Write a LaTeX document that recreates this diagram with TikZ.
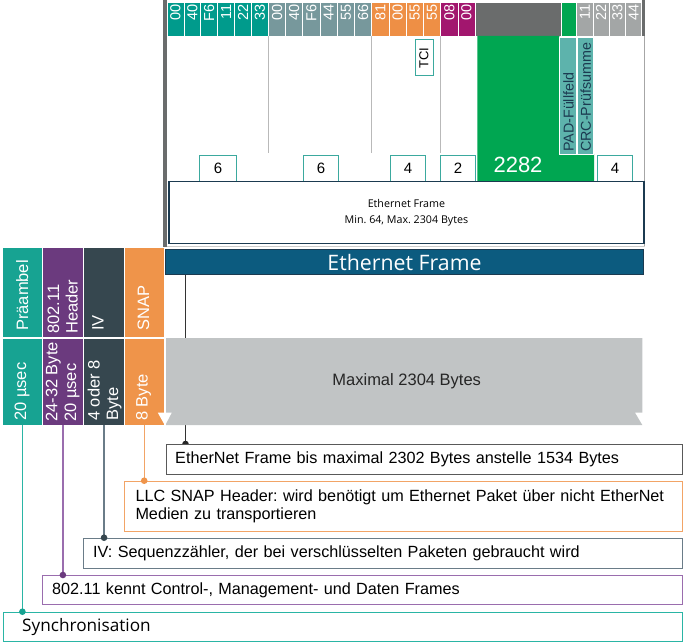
\documentclass[tikz,border=0pt]{standalone}
\usepackage{fontspec}
\setmainfont{Liberation Sans}
\newfontfamily\seg{Open Sans}
\newcommand\fs[2]{\fontsize{#1}{#2}\selectfont}
\frenchspacing
\definecolor{cteal}{HTML}{009B8C}
\definecolor{cgteal}{HTML}{77989C}
\definecolor{corange}{HTML}{EE8F45}
\definecolor{cmag}{HTML}{A2166E}
\definecolor{cdgray}{HTML}{6A6C6C}
\definecolor{cgreen}{HTML}{00A651}
\definecolor{clgray}{HTML}{A3A6A6}
\definecolor{cpad}{HTML}{5DB3AC}
\definecolor{boxteal}{HTML}{3BA99E}
\definecolor{navy}{HTML}{1B3A50}
\definecolor{cblue}{HTML}{0C5B7F}
\definecolor{colteal}{HTML}{17A392}
\definecolor{colpurple}{HTML}{6B3A7E}
\definecolor{colslate}{HTML}{36474F}
\definecolor{colorange}{HTML}{EF944A}
\definecolor{cgraybox}{HTML}{C1C4C5}
\definecolor{lteal}{HTML}{2AB5A5}
\definecolor{lpurple}{HTML}{9A6DAE}
\definecolor{lslate}{HTML}{6A7C88}
\definecolor{lorange}{HTML}{F2A466}
\tikzset{
  celltxt/.style={rotate=90, anchor=east, text=white, font=\fs{14.5}{16}, inner sep=1pt},
  numbox/.style={draw=boxteal, fill=white, line width=1pt, minimum height=26pt, anchor=north west, inner sep=0, font=\fs{15}{17}},
  colbox/.style={anchor=north west, inner sep=0, draw=none},
  vlab/.style={rotate=90, anchor=west, text=white, font=\fs{16.5}{18.5}, align=left, inner sep=0},
  callout/.style={anchor=north west, inner ysep=0, align=left, font=\fs{16.2}{17.5}, line width=1pt, fill=white},
  conn/.style={line width=1.2pt},
}
\begin{document}
\begin{tikzpicture}[x=1pt,y=-1pt]
\useasboundingbox (0,0) rectangle (685,644);
% frame of the upper region
\fill[cdgray] (162.7,0) rectangle (166.7,247);
\draw[gray!70, line width=1.2pt] (644.5,0) -- (644.5,247);
\draw[gray!40, line width=0.8pt] (166.7,246.5) -- (644.5,246.5);
% byte strip
\foreach \t [count=\i from 0] in {00,40,F6,11,22,33} {
  \filldraw[fill=cteal, draw=white, line width=0.7pt] ({167+16.9*\i},2) rectangle ++(16.9,34);
  \node[celltxt] (ta\i) at ({167+16.9*\i+8.45},3) {\t};
}
\foreach \t [count=\i from 0] in {00,40,F6,44,55,66} {
  \filldraw[fill=cgteal, draw=white, line width=0.7pt] ({268.4+17.22*\i},2) rectangle ++(17.22,34);
  \node[celltxt] (tb\i) at ({268.4+17.22*\i+8.61},3) {\t};
}
\foreach \t [count=\i from 0] in {81,00,55,55} {
  \filldraw[fill=corange, draw=white, line width=0.7pt] ({371.7+17.25*\i},2) rectangle ++(17.25,34);
  \node[celltxt] (tc\i) at ({371.7+17.25*\i+8.62},3) {\t};
}
\foreach \t [count=\i from 0] in {08,00} {
  \filldraw[fill=cmag, draw=white, line width=0.7pt] ({440.7+17.15*\i},2) rectangle ++(17.15,34);
  \node[celltxt] (td\i) at ({440.7+17.15*\i+8.57},3) {\t};
}
\filldraw[fill=cdgray, draw=white, line width=0.7pt] (475,2) rectangle (561,36);
\filldraw[fill=cgreen, draw=white, line width=0.7pt] (561,2) rectangle (576.7,36);
\foreach \t [count=\i from 0] in {11,22,33,44} {
  \filldraw[fill=clgray, draw=white, line width=0.7pt] ({576.7+16.25*\i},2) rectangle ++(16.25,34);
  \node[celltxt] (te\i) at ({576.7+16.25*\i+8.12},3) {\t};
}
\fill[cdgray] (641.7,0) rectangle (645,36);
% separators under the strip
\draw[gray!55, line width=1pt] (268.4,36) -- (268.4,153);
\draw[gray!55, line width=1pt] (371.7,36) -- (371.7,153);
\draw[gray!55, line width=1pt] (440.7,36) -- (440.7,153);
% green payload
\fill[cgreen] (477.3,36) -- (559.3,36) -- (559.3,154) -- (594,154) -- (594,181) -- (477.3,181) -- cycle;
\filldraw[fill=cpad, draw=white, line width=0.7pt] (559.6,37) rectangle (576.5,154);
\filldraw[fill=cpad, draw=white, line width=0.7pt] (577.2,37) rectangle (593.6,154);
\node[rotate=90, anchor=west, text=navy, font=\fs{14.3}{16}, inner sep=0] (pad) at (568.4,152) {PAD-Füllfeld};
\node[rotate=90, anchor=west, text=navy, font=\fs{14.3}{16}, inner sep=0] (crc) at (585.7,152) {CRC-Prüfsumme};
\node[rotate=90, draw=boxteal, fill=white, line width=1pt, minimum width=36pt, minimum height=18pt, font=\fs{13}{15}, inner sep=0] (tci) at (424,58) {TCI};
% length boxes
\node[numbox, minimum width=36.7pt] (n1) at (199.3,155) {6};
\node[numbox, minimum width=35.6pt] (n2) at (302.7,155) {6};
\node[numbox, minimum width=35pt] (n3) at (390,155) {4};
\node[numbox, minimum width=35pt] (n4) at (440,155) {2};
\node[numbox, minimum width=35pt] (n5) at (597,155) {4};
\node[text=white, font=\fs{22}{24}, inner sep=0] (t2282) at (518,165) {2282};
% frame box
\node[draw=navy, line width=1.3pt, fill=white, anchor=north west, minimum width=475pt, minimum height=62pt, align=center, font=\seg\fs{10.7}{16}] (ef) at (168.3,180.7) {Ethernet Frame\\Min. 64, Max. 2304 Bytes};
\node[draw=navy, line width=1pt, fill=cblue, anchor=north west, minimum width=478pt, minimum height=25pt, text=white, font=\seg\fs{21.3}{23}, inner sep=0] (efbar) at (165,249.3) {Ethernet Frame};
% black connector (behind gray box)
\coordinate (blk) at (185.5,444);
\draw[conn, black!80] (efbar.south -| blk) -- (blk);
\fill[black!85] (blk) circle (3.3);
% gray payload box
\fill[cgraybox] (166,338) -- (642.3,338) -- (642.3,412.7) -- (635,412.7) -- (642.3,425) -- (166,425) -- cycle;
\node[font=\fs{16.5}{18}, text=black!85] (maxt) at (406.7,381) {Maximal 2304 Bytes};
% left column
\node[colbox, fill=colteal, minimum width=39pt, minimum height=88.7pt] (pre1) at (2.7,248) {};
\node[colbox, fill=colpurple, minimum width=40pt, minimum height=88.7pt] (hdr1) at (42.7,248) {};
\node[colbox, fill=colslate, minimum width=40.3pt, minimum height=88.7pt] (iv1) at (83.7,248) {};
\node[colbox, fill=colorange, minimum width=38.6pt, minimum height=88.7pt] (snap1) at (124.7,248) {};
\node[colbox, fill=colteal, minimum width=39pt, minimum height=86.7pt] (pre2) at (2.7,338.3) {};
\node[colbox, fill=colpurple, minimum width=40pt, minimum height=86.7pt] (hdr2) at (42.7,338.3) {};
\node[colbox, fill=colslate, minimum width=40.3pt, minimum height=86.7pt] (iv2) at (83.7,338.3) {};
\node[colbox, fill=colorange, minimum width=38.6pt, minimum height=86.7pt] (snap2) at (124.7,338.3) {};
\node[vlab] (pre1t) at (22.2,331) {Präambel};
\node[vlab] (hdr1t) at (62.7,334) {802.11\\Header};
\node[vlab] (iv1t) at (98,331) {IV};
\node[vlab] (snap1t) at (143.5,331) {SNAP};
\node[vlab] (pre2t) at (22.2,421) {20 µsec};
\node[vlab] (hdr2t) at (62.7,422) {24-32 Byte\\20 µsec};
\node[vlab] (iv2t) at (104.5,421) {4 oder 8\\Byte};
\node[vlab] (snap2t) at (143.5,421) {8 Byte};
\fill[white] (157.8,412.7) -- (171.7,412.7) -- (165,425.5) -- cycle;
% callouts
\node[callout, draw=black!65, minimum width=516.6pt, minimum height=30pt, inner xsep=9pt, text width=498.6pt] (cb1) at (165.7,444) {EtherNet Frame bis maximal 2302 Bytes anstelle 1534 Bytes};
\node[callout, draw=lorange, minimum width=558.3pt, minimum height=50pt, inner xsep=11pt, text width=536.3pt] (cb2) at (124,480.7) {LLC SNAP Header: wird benötigt um Ethernet Paket über nicht EtherNet\\Medien zu transportieren};
\node[callout, draw=lslate, minimum width=599pt, minimum height=30pt, inner xsep=9.4pt, text width=580.2pt] (cb3) at (83.3,537.7) {IV: Sequenzzähler, der bei verschlüsselten Paketen gebraucht wird};
\node[callout, draw=lpurple, minimum width=640pt, minimum height=29.3pt, inner xsep=9.4pt, text width=621.2pt] (cb4) at (42.3,575) {802.11 kennt Control-, Management- und Daten Frames};
\node[callout, draw=lteal, minimum width=679.6pt, minimum height=29.3pt, inner xsep=19pt, text width=641.6pt, font=\seg\fs{17.2}{19}] (cb5) at (2.7,611.7) {Synchronisation};
% connectors from the left column
\draw[conn, lorange] (snap2.south) -- (snap2.south |- cb2.north);
\fill[colorange] (snap2.south |- cb2.north) circle (3.3);
\draw[conn, lslate] (iv2.south) -- (iv2.south |- cb3.north);
\fill[colslate] (iv2.south |- cb3.north) circle (3.3);
\draw[conn, lpurple] (hdr2.south) -- (hdr2.south |- cb4.north);
\fill[colpurple] (hdr2.south |- cb4.north) circle (3.3);
\draw[conn, lteal] (pre2.south) -- (pre2.south |- cb5.north);
\fill[colteal] (pre2.south |- cb5.north) circle (3.3);
\end{tikzpicture}
\end{document}
